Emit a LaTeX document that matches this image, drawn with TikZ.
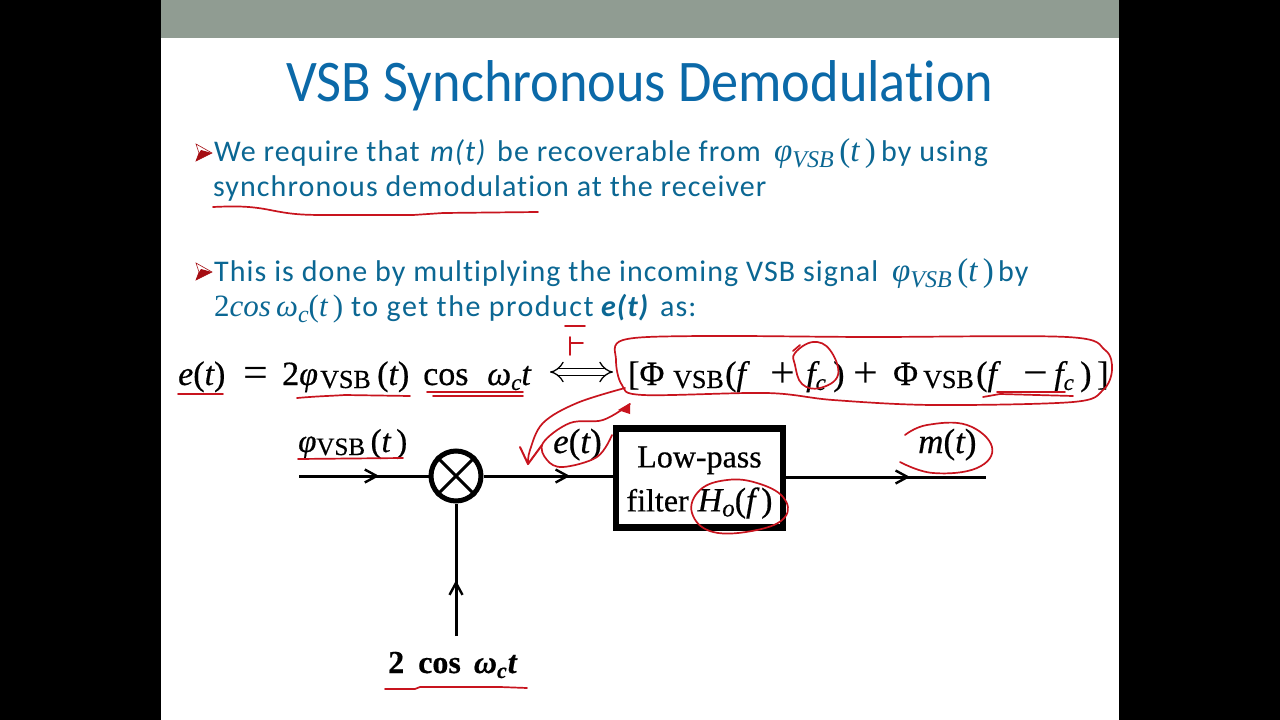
\documentclass[tikz,border=0pt]{standalone}
\usepackage{fontspec}
\setmainfont{Carlito}
\newfontfamily\ser[FakeBold=0.5]{Liberation Serif}
\newfontfamily\mser{Liberation Serif}
\usetikzlibrary{arrows.meta,decorations.markings}
\definecolor{barg}{HTML}{909C92}
\definecolor{titleblue}{HTML}{0B69A8}
\definecolor{bodyblue}{HTML}{0B6793}
\definecolor{ink}{HTML}{C8141E}
\definecolor{bulred}{HTML}{A50D12}
\newfontfamily\bodyf[LetterSpace=3.6,Ligatures=CommonOff]{Carlito}
\newfontfamily\bodywide[LetterSpace=5.1,Ligatures=CommonOff]{Carlito}
\newfontfamily\titlef[FakeStretch=0.92,Ligatures=CommonOff]{Carlito}
\newcommand{\bsz}{\fontsize{30}{36}\selectfont\bodyf}
\newcommand{\tsub}[1]{\raisebox{-6pt}{\fontsize{24}{24}\selectfont\mser\itshape #1}}
\newcommand{\cphi}{{\fontsize{33}{36}\selectfont\mser\itshape φ\tsub{VSB}\,\upshape(\itshape t\,\upshape)}}
\newcommand{\isub}[1]{\raisebox{-5pt}{\fontsize{23}{23}\selectfont\ser\itshape #1}}
\tikzset{
  x=1pt,y=-1pt,
  body/.style={anchor=base west,inner sep=0pt,text=bodyblue,font=\bsz},
  mth/.style={anchor=base west,inner sep=0pt,text=black,font=\fontsize{34}{40}\selectfont\ser},
  mop/.style={anchor=base west,inner sep=0pt,text=black,font=\fontsize{44}{48}\selectfont\mser},
  redink/.style={draw=ink,line width=1.7pt,line cap=round,line join=round},
  flow/.style={line width=3pt,draw=black},
  midarrow/.style={postaction={decorate},decoration={markings,mark=at position #1 with {\arrow[line width=2.4pt]{Straight Barb[length=12pt,width=13pt]}}}},
  mixer/.style={circle,draw=black,line width=5pt,minimum size=50pt,inner sep=0pt},
  filterbox/.style={draw=black,line width=6.5pt,minimum width=167pt,minimum height=99pt,inner sep=0pt,align=center,font=\fontsize{32}{44}\selectfont\ser},
}
\begin{document}
\begin{tikzpicture}
\useasboundingbox (0,0) rectangle (1280,720);
\fill[black] (0,0) rectangle (1280,720);
\fill[white] (161,0) rectangle (1119,720);
\fill[barg] (161,0) rectangle (1119,38);
% title
\node[anchor=base,inner sep=0pt,text=titleblue,font=\fontsize{59}{66}\selectfont\titlef] (title) at (640,101) {VSB Synchronous Demodulation};
% bullets
\draw[bulred,line width=0.6pt,fill=white] (196,144) -- (212,153) -- (196,161) -- (199,153) -- cycle;
\fill[bulred] (201,150) -- (212,153) -- (196,161) -- (199,153) -- cycle;
\draw[bulred,line width=0.6pt,fill=white] (196,263) -- (212,272) -- (196,280) -- (199,272) -- cycle;
\fill[bulred] (201,269) -- (212,272) -- (196,280) -- (199,272) -- cycle;
% text
\node[body] (l1a) at (214,161) {We require that};
\node[body] (l1b) at (430,161) {\itshape m(t)};
\node[body] (l1c) at (497,161) {be recoverable from};
\node[body] (l1d) at (774,161) {\cphi};
\node[body] (l1e) at (881,161) {by using};
\node[body] (l2) at (213,196) {synchronous demodulation at the receiver};
\node[body] (l3a) at (214,281) {This is done by multiplying the incoming VSB signal};
\node[body] (l3b) at (892,281) {\cphi};
\node[body] (l3c) at (998,281) {by};
\node[body] (l4a) at (214,316) {\fontsize{31}{36}\selectfont\mser 2\itshape cos\,ω\tsub{c}\upshape(\itshape t\,\upshape)};
\node[body] (l4b) at (351,316) {\bodywide to get the product};
\node[body] (l4c) at (601,316) {\bfseries\itshape e(t)};
\node[body] (l4d) at (660,316) {as:};
% equation
\node[mth] (e1) at (178,385) {\itshape e\upshape(\itshape t\upshape)};
\node[mop] (e2) at (243,387) {=};
\node[mth] (e3) at (282,385) {2\itshape φ};
\node[mth] (e4) at (320,388) {\fontsize{26}{26}\selectfont VSB};
\node[mth] (e5) at (377,385) {(\itshape t\upshape)};
\node[mth] (e6) at (423,385) {cos};
\node[mth] (e7) at (487,385) {\itshape ω\isub{c}t};
\coordinate (iffL) at (550,372);
\coordinate (iffR) at (613,372);
\draw[double,double distance=6pt,line width=1.3pt,{Implies}-{Implies}] (iffL) -- (iffR);
\node[mth] (r1) at (628,385) {[Φ};
\node[mth] (r2) at (673,388) {\fontsize{26}{26}\selectfont VSB};
\node[mth] (r3) at (725,385) {(\itshape f};
\node[mop] (r4) at (770,387) {+};
\node[mth] (r5) at (806,385) {\itshape f\isub{c}};
\node[mth] (r6) at (833,385) {)};
\node[mop] (r7) at (853,387) {+};
\node[mth] (r8) at (893,385) {Φ};
\node[mth] (r9) at (923,388) {\fontsize{26}{26}\selectfont VSB};
\node[mth] (r10) at (976,385) {(\itshape f};
\node[mop] (r11) at (1023,387) {−};
\node[mth] (r12) at (1054,385) {\itshape f\isub{c}};
\node[mth] (r13) at (1080,385) {)};
\node[mth] (r14) at (1097,385) {]};
% diagram
\node[mixer] (mix) at (456,476) {};
\draw[line width=3pt] (mix.45) -- (mix.225) (mix.135) -- (mix.315);
\node[filterbox] (lpf) at (699.5,478) {\rule{0pt}{30pt}Low-pass\\filter\hspace{9pt}{\fontsize{34}{44}\selectfont\itshape H\raisebox{-5pt}{\fontsize{25}{25}\selectfont o}\upshape(\itshape f\,\upshape)}};
\coordinate (in) at (299,476);
\coordinate (out) at (986,477);
\coordinate (lo) at (456,636);
\draw[flow,midarrow=0.62] (in) -- (mix.west);
\draw[flow,midarrow=0.67] (mix.east) -- (lpf.west |- mix.east);
\draw[flow,midarrow=0.62] (lpf.east |- out) -- (out);
\draw[flow,midarrow=0.42] (lo) -- (mix.south);
\node[mth] (ph) at (298,452) {\fontsize{33}{36}\selectfont\itshape φ\raisebox{-3pt}{\fontsize{25}{25}\selectfont\upshape VSB}\,\upshape(\itshape t\,\upshape)};
\node[mth] (et) at (553,453) {\fontsize{35}{36}\selectfont\itshape e\upshape(\itshape t\upshape)};
\node[mth] (mt) at (918,453) {\fontsize{35}{36}\selectfont\itshape m\upshape(\itshape t\upshape)};
\node[mth] (lo2) at (388,673) {\fontsize{32}{36}\selectfont\bfseries 2\hspace{14pt}cos\hspace{13pt}\itshape ω\raisebox{-5pt}{\fontsize{22}{22}\selectfont c}\hspace{1pt}t};
% red annotations
\draw[redink] (213,207) .. controls (235,206) and (250,206) .. (270,210) .. controls (290,214) and (300,215) .. (325,215) -- (413,215) -- (443,213) -- (538,212);
\draw[redink] (565,326) -- (585,326) (570,337) -- (570,355) (570,343) -- (583,343);
\draw[redink] (178,394) -- (223,394);
\draw[redink] (297,398) .. controls (320,396) and (330,396) .. (345,395) -- (410,396);
\draw[redink] (427,392) -- (523,392) (433,396) -- (523,396);
\draw[redink] (298,459) -- (403,458);
\draw[redink] (385,689) -- (415,689) -- (420,687) -- (500,687) -- (527,688);
\draw[redink] plot[smooth cycle,tension=0.55] coordinates {(623,340) (700,336) (867,337) (1067,337) (1105,350) (1112,370) (1103,390) (1073,402) (933,405) (833,400) (767,393) (643,395) (622,385) (616,360)};
\draw[redink] plot[smooth cycle,tension=0.7] coordinates {(795,353) (813,342) (830,350) (838,375) (820,388) (802,384) (795,365)};
\draw[redink] (793,351) -- (800,345);
\draw[redink] (983,397) -- (1000,394) -- (1073,396) (997,392) -- (1065,392);
\draw[redink] plot[smooth cycle,tension=0.7] coordinates {(783,497) (757,483) (727,480) (700,490) (692,513) (713,532) (757,530) (785,517)};
\draw[redink] plot[smooth,tension=0.7] coordinates {(905,435) (927,425) (967,425) (992,447) (977,468) (933,473) (900,462)};
\draw[redink] plot[smooth,tension=0.6] coordinates {(630,404) (603,420) (570,423) (543,443) (547,460) (563,467) (597,457) (612,435)};
\fill[ink] (630,403) -- (630,414) -- (618,410) -- cycle;
\draw[redink] plot[smooth,tension=0.6] coordinates {(625,388) (577,403) (543,423) (530,450) (528,464)};
\draw[redink,line width=2pt] (520,447) -- (528,464) -- (542,445);
\end{tikzpicture}
\end{document}
